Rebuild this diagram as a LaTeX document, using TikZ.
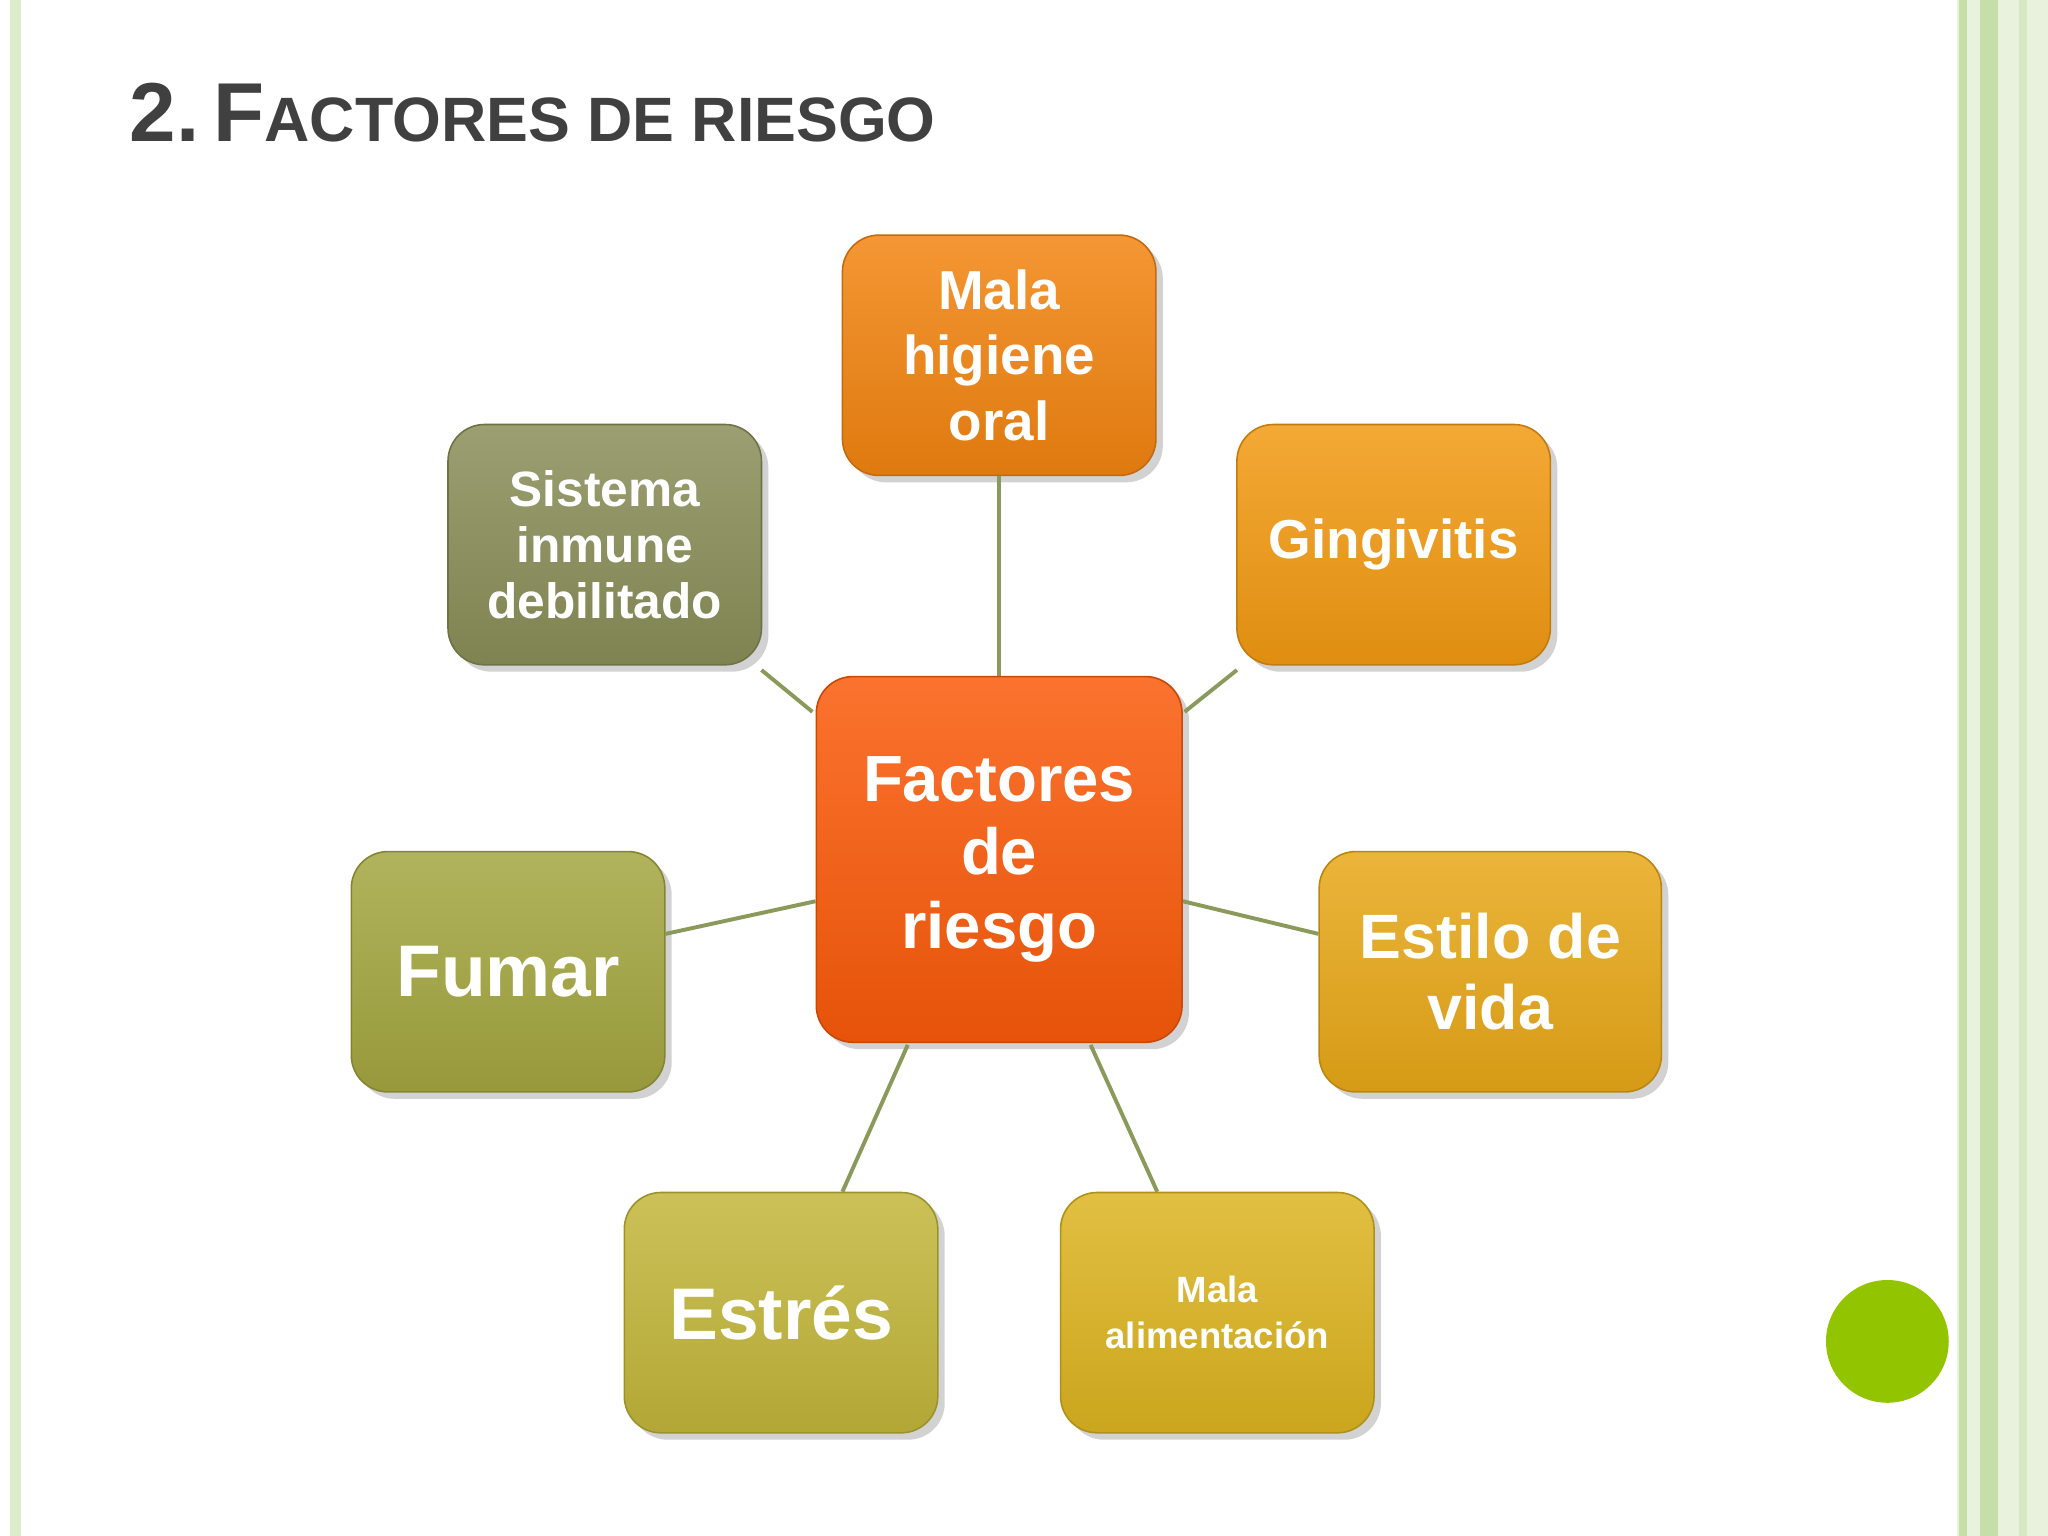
\documentclass[tikz,border=0pt]{standalone}
\usepackage{fontspec}
\setmainfont{Liberation Sans}
\usetikzlibrary{shadows}

\definecolor{frameGreen}{HTML}{C6DFA8}
\definecolor{dotGreen}{HTML}{92C500}
\definecolor{linkOlive}{HTML}{8A9A5B}
\definecolor{titleGray}{HTML}{404040}
\definecolor{cCenter}{HTML}{FA5A0A}
\definecolor{cHigiene}{HTML}{F28410}
\definecolor{cGingi}{HTML}{F29A12}
\definecolor{cEstilo}{HTML}{E8A818}
\definecolor{cAlim}{HTML}{DCB420}
\definecolor{cEstres}{HTML}{C2B63A}
\definecolor{cFumar}{HTML}{A4A640}
\definecolor{cSistema}{HTML}{8A8E58}

\tikzset{every picture/.style={line width=0.75pt}}
\tikzset{
  factor/.style={rounded corners=14pt, minimum width=120pt, minimum height=92pt,
    align=center, text=white, drop shadow={opacity=0.35},
    draw=#1!80!black, line width=0.6pt, top color=#1!85!white, bottom color=#1!92!black},
  fs/.style 2 args={font=\bfseries\fontsize{#1}{#2}\selectfont},
  link/.style={draw=linkOlive, line width=1.5pt}
}

\begin{document}
\begin{tikzpicture}[x=0.5pt,y=0.5pt,yscale=-1,xscale=1]
\useasboundingbox (0,0) rectangle (1568,1176);
\fill[white] (0,0) rectangle (1568,1176);

%Frame
\fill[frameGreen!60] (8,0) rectangle (16,1176);
\fill[frameGreen!40] (1498,0) rectangle (1568,1176);
\fill[frameGreen] (1500,0) rectangle (1506,1176);
\fill[frameGreen] (1516,0) rectangle (1530,1176);
\fill[frameGreen!70] (1546,0) rectangle (1552,1176);

% Title
\node[anchor=base west, text=titleGray, font=\bfseries] (title) at (92,108)
  {\fontsize{32}{36}\selectfont 2.\,F\fontsize{24}{28}\selectfont ACTORES DE RIESGO};

% Dot
\fill[dotGreen] (1445,1027) circle (47);

% Nodes
\node[factor=cCenter, minimum width=140pt, minimum height=140pt, fs={25}{28}] (center) at (765,658)
  {Factores\\de\\riesgo};
\node[factor=cHigiene, fs={21}{25}] (higiene) at (765,272) {Mala\\higiene\\oral};
\node[factor=cGingi, fs={21}{25}] (gingivitis) at (1067,417) {Gingivitis};
\node[factor=cSistema, fs={19}{21.5}] (sistema) at (463,417) {Sistema\\inmune\\debilitado};
\node[factor=cFumar, fs={28}{32}] (fumar) at (389,744) {Fumar};
\node[factor=cEstilo, minimum width=131pt, fs={24}{27}] (estilo) at (1141,744) {Estilo de\\vida};
\node[factor=cEstres, fs={28}{32}] (estres) at (598,1005) {Estrés};
\node[factor=cAlim, fs={14}{17.5}] (alimentacion) at (932,1005) {Mala\\alimentación};

% Links
\draw[link] (center.north) -- (higiene.south);
\draw[link] (622,545) -- (583,513);
\draw[link] (907,545) -- (947,513);
\draw[link] (center.west |- 0,690) -- (fumar.east |- 0,715);
\draw[link] (center.east |- 0,690) -- (estilo.west |- 0,715);
\draw[link] (695,800) -- (estres.north -| 645,0);
\draw[link] (835,800) -- (alimentacion.north -| 886,0);
\end{tikzpicture}
\end{document}
